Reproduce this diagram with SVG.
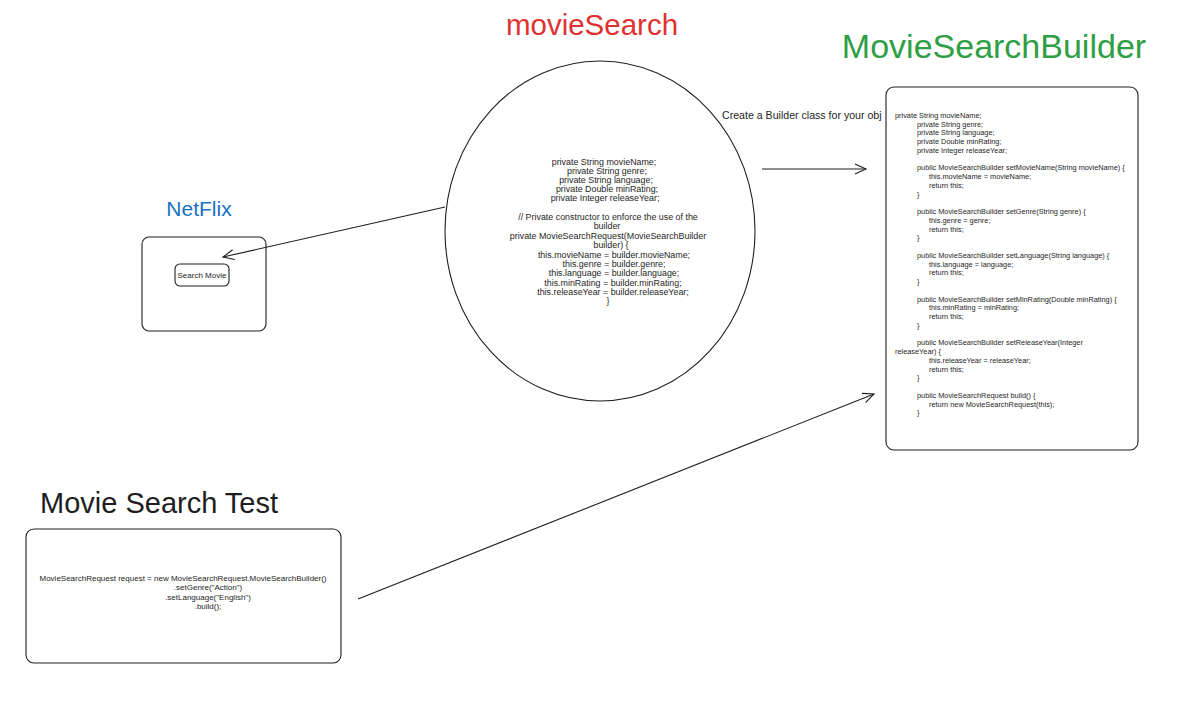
<svg xmlns="http://www.w3.org/2000/svg" width="1200" height="709" viewBox="0 0 1200 709">
<defs>
<style>
.shape{fill:none;stroke:#1e1e1e;stroke-width:1.1;}
.conn{fill:none;stroke:#1e1e1e;stroke-width:1.1;}
.code{font-family:"Liberation Sans",Arial,sans-serif;font-size:8.9px;fill:#1e1e1e;}
.tcode{font-family:"Liberation Sans",Arial,sans-serif;font-size:8px;fill:#1e1e1e;}
.bcode{font-family:"Liberation Sans",Arial,sans-serif;font-size:7.35px;fill:#1e1e1e;}
.mid{text-anchor:middle;}
.title{font-family:"Liberation Sans",Arial,sans-serif;}
</style>
<marker id="arr" markerWidth="14" markerHeight="12" refX="12" refY="6" orient="auto" markerUnits="userSpaceOnUse">
<path d="M1,1 L12,6 L1,11" fill="none" stroke="#1e1e1e" stroke-width="1.1"/>
</marker>
</defs>
<rect width="1200" height="709" fill="#ffffff"/>

<g id="movieSearch">
<text class="title mid" x="592" y="35" font-size="29.5" fill="#e03131">movieSearch</text>
<ellipse class="shape" cx="600" cy="231" rx="155" ry="170"/>
<g class="code mid">
<text x="604" y="165">private String movieName;</text>
<text x="607" y="174">private String genre;</text>
<text x="606" y="183">private String language;</text>
<text x="607" y="192">private Double minRating;</text>
<text x="605" y="201">private Integer releaseYear;</text>
<text x="608" y="220">// Private constructor to enforce the use of the</text>
<text x="607" y="229">builder</text>
<text x="608" y="239">private MovieSearchRequest(MovieSearchBuilder</text>
<text x="611" y="248">builder) {</text>
<text x="614" y="258">this.movieName = builder.movieName;</text>
<text x="614" y="267">this.genre = builder.genre;</text>
<text x="614" y="276">this.language = builder.language;</text>
<text x="613" y="286">this.minRating = builder.minRating;</text>
<text x="613" y="295">this.releaseYear = builder.releaseYear;</text>
<text x="608" y="304">}</text>
</g>
</g>

<g id="builder">
<text class="title mid" x="994" y="58" font-size="34" fill="#2f9e44">MovieSearchBuilder</text>
<rect class="shape" x="886" y="87" width="252" height="363" rx="8"/>
<g class="bcode">
<text x="895" y="118">private String movieName;</text>
<text x="917" y="127">private String genre;</text>
<text x="917" y="135">private String language;</text>
<text x="917" y="144">private Double minRating;</text>
<text x="917" y="153">private Integer releaseYear;</text>
<text x="917" y="170">public MovieSearchBuilder setMovieName(String movieName) {</text>
<text x="929" y="179">this.movieName = movieName;</text>
<text x="929" y="188">return this;</text>
<text x="917" y="197">}</text>
<text x="917" y="214">public MovieSearchBuilder setGenre(String genre) {</text>
<text x="929" y="223">this.genre = genre;</text>
<text x="929" y="232">return this;</text>
<text x="917" y="240">}</text>
<text x="917" y="258">public MovieSearchBuilder setLanguage(String language) {</text>
<text x="929" y="267">this.language = language;</text>
<text x="929" y="275">return this;</text>
<text x="917" y="284">}</text>
<text x="917" y="302">public MovieSearchBuilder setMinRating(Double minRating) {</text>
<text x="929" y="310">this.minRating = minRating;</text>
<text x="929" y="319">return this;</text>
<text x="917" y="328">}</text>
<text x="917" y="345">public MovieSearchBuilder setReleaseYear(Integer</text>
<text x="895" y="354">releaseYear) {</text>
<text x="929" y="363">this.releaseYear = releaseYear;</text>
<text x="929" y="372">return this;</text>
<text x="917" y="380">}</text>
<text x="917" y="398">public MovieSearchRequest build() {</text>
<text x="929" y="407">return new MovieSearchRequest(this);</text>
<text x="917" y="415">}</text>
</g>
</g>

<g id="netflix">
<text class="title mid" x="199" y="216" font-size="21" fill="#1971c2">NetFlix</text>
<rect class="shape" x="142" y="237" width="124" height="94" rx="7"/>
</g>

<g id="searchMovie">
<rect class="shape" x="175" y="264" width="54" height="22" rx="5"/>
<text class="tcode mid" x="202" y="278" font-size="7.6">Search Movie</text>
</g>

<g id="movieSearchTest">
<text class="title" x="40" y="513" font-size="29" fill="#1e1e1e">Movie Search Test</text>
<rect class="shape" x="26" y="529" width="315" height="134" rx="8"/>
<g class="tcode mid">
<text x="183" y="581">MovieSearchRequest request = new MovieSearchRequest.MovieSearchBuilder()</text>
<text x="208" y="590">.setGenre("Action")</text>
<text x="208" y="600">.setLanguage("English")</text>
<text x="208" y="609">.build();</text>
</g>
</g>

<g id="connectors">
<line class="conn" x1="445" y1="207" x2="223" y2="257" marker-end="url(#arr)"/>
<line class="conn" x1="762" y1="169" x2="866" y2="169" marker-end="url(#arr)"/>
<line class="conn" x1="358" y1="599" x2="874" y2="394" marker-end="url(#arr)"/>
</g>

<g id="note">
<text x="722" y="119" font-family="Liberation Sans, Arial, sans-serif" font-size="10.6" fill="#1e1e1e">Create a Builder class for your obj</text>
</g>
</svg>
